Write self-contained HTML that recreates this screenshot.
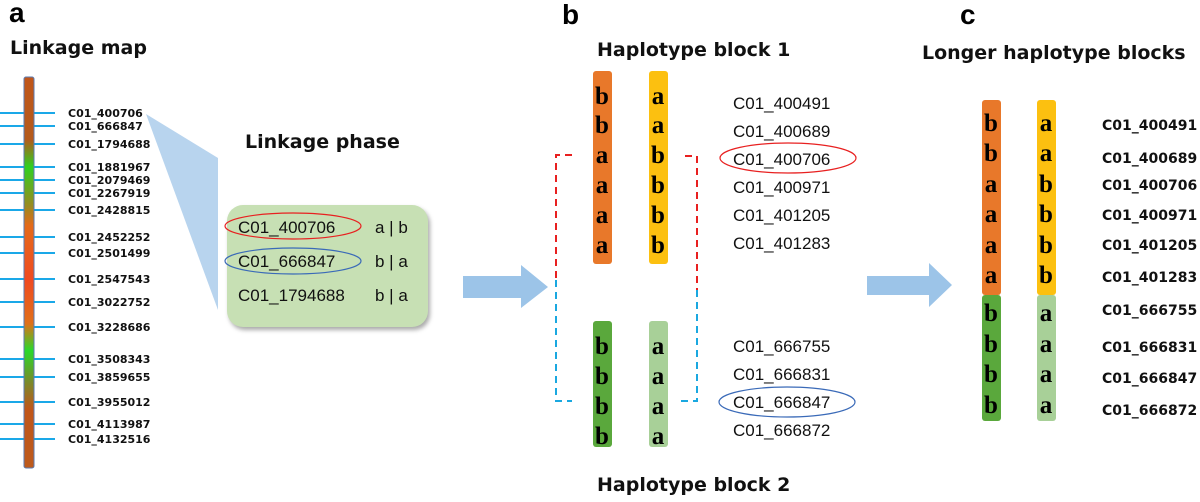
<!DOCTYPE html>
<html><head><meta charset="utf-8"><style>
body{margin:0;background:#fff;width:1200px;height:497px;overflow:hidden}
svg{font-family:"Liberation Sans",sans-serif}
.t{font-family:"DejaVu Sans",sans-serif;font-weight:bold;font-size:19px;fill:#111}
.m{font-family:"DejaVu Sans",sans-serif;font-weight:bold;font-size:11px;fill:#111}
.n{font-family:"Liberation Sans",sans-serif;font-size:17px;fill:#111}
.c{font-family:"DejaVu Sans",sans-serif;font-weight:bold;font-size:14px;fill:#111}
.L{font-family:"Liberation Serif",serif;font-weight:bold;font-size:25px;fill:#000}
</style></head><body>
<svg width="1200" height="497" xmlns="http://www.w3.org/2000/svg">
<defs>
<linearGradient id="chr" x1="0" y1="0" x2="0" y2="1">
<stop offset="0" stop-color="#c0561a"/><stop offset="0.16" stop-color="#b45a1c"/>
<stop offset="0.23" stop-color="#30d020"/><stop offset="0.33" stop-color="#9a8a20"/>
<stop offset="0.38" stop-color="#e46a1a"/><stop offset="0.52" stop-color="#f04a20"/>
<stop offset="0.63" stop-color="#e0701a"/><stop offset="0.70" stop-color="#2ad82a"/>
<stop offset="0.78" stop-color="#7a8a2a"/><stop offset="0.85" stop-color="#c0561a"/>
<stop offset="1" stop-color="#bd5a1c"/></linearGradient>
</defs>
<text x="9" y="22" style="font-family:'Liberation Sans';font-weight:bold;font-size:28px">a</text>
<text x="562" y="24" style="font-family:'Liberation Sans';font-weight:bold;font-size:28px">b</text>
<text x="960" y="24" style="font-family:'Liberation Sans';font-weight:bold;font-size:28px">c</text>
<text class="t" x="10" y="54">Linkage map</text>
<text class="t" x="245" y="148">Linkage phase</text>
<text class="t" x="597" y="56">Haplotype block 1</text>
<text class="t" x="597" y="491">Haplotype block 2</text>
<text class="t" x="922" y="59">Longer haplotype blocks</text>

<polygon points="146,114 218,158 218,310" fill="#b8d4ee"/>
<g stroke="#1aa8e8" stroke-width="2">
<line x1="0" y1="113" x2="55" y2="113"/><line x1="0" y1="126" x2="55" y2="126"/>
<line x1="0" y1="144" x2="55" y2="144"/><line x1="0" y1="167" x2="55" y2="167"/>
<line x1="0" y1="180" x2="55" y2="180"/><line x1="0" y1="193" x2="55" y2="193"/>
<line x1="0" y1="210" x2="55" y2="210"/><line x1="0" y1="237" x2="55" y2="237"/>
<line x1="0" y1="253" x2="55" y2="253"/><line x1="0" y1="279" x2="55" y2="279"/>
<line x1="0" y1="302" x2="55" y2="302"/><line x1="0" y1="327" x2="55" y2="327"/>
<line x1="0" y1="359" x2="55" y2="359"/><line x1="0" y1="377" x2="55" y2="377"/>
<line x1="0" y1="402" x2="55" y2="402"/><line x1="0" y1="424" x2="55" y2="424"/>
<line x1="0" y1="439" x2="55" y2="439"/></g>
<rect x="24" y="77" width="10" height="391" rx="2" fill="url(#chr)" stroke="#5a7ab0" stroke-width="1"/>
<g class="m">
<text x="68" y="117">C01_400706</text><text x="68" y="130">C01_666847</text>
<text x="68" y="148">C01_1794688</text><text x="68" y="171">C01_1881967</text>
<text x="68" y="184">C01_2079469</text><text x="68" y="197">C01_2267919</text>
<text x="68" y="214">C01_2428815</text><text x="68" y="241">C01_2452252</text>
<text x="68" y="257">C01_2501499</text><text x="68" y="283">C01_2547543</text>
<text x="68" y="306">C01_3022752</text><text x="68" y="331">C01_3228686</text>
<text x="68" y="363">C01_3508343</text><text x="68" y="381">C01_3859655</text>
<text x="68" y="406">C01_3955012</text><text x="68" y="428">C01_4113987</text>
<text x="68" y="443">C01_4132516</text></g>

<rect x="227" y="205" width="201" height="122" rx="16" fill="#c7e0b4" style="filter:drop-shadow(2px 3px 2px #aaa)"/>
<g class="n">
<text x="238" y="233">C01_400706</text><text x="375" y="233">a | b</text>
<text x="238" y="267">C01_666847</text><text x="375" y="267">b | a</text>
<text x="238" y="301">C01_1794688</text><text x="375" y="301">b | a</text></g>
<ellipse cx="293" cy="226" rx="68" ry="13" fill="none" stroke="#e82020" stroke-width="1.2"/>
<ellipse cx="293" cy="261" rx="68" ry="13" fill="none" stroke="#3a6ab8" stroke-width="1.2"/>

<polygon points="463,276 521,276 521,265 548,287 521,308 521,298 463,298" fill="#9cc4e8"/>
<polygon points="867,276 929,276 929,263 952,285 929,307 929,295 867,295" fill="#9cc4e8"/>

<g fill="none" stroke-width="2" stroke-dasharray="7,5">
<path d="M572,155 H556 V280" stroke="#e82020"/>
<path d="M556,280 V401 H572" stroke="#1aa8e0"/>
<path d="M685,156 H697 V290" stroke="#e82020"/>
<path d="M697,290 V401 H681" stroke="#1aa8e0"/></g>

<rect x="593" y="71" width="19" height="193" rx="3" fill="#e8782a"/>
<rect x="649" y="71" width="19" height="193" rx="3" fill="#fcc010"/>
<rect x="593" y="321" width="19" height="126" rx="3" fill="#5aa83c"/>
<rect x="649" y="321" width="19" height="126" rx="3" fill="#a8d098"/>
<g class="L" text-anchor="middle">
<text x="602" y="104">b</text><text x="602" y="133">b</text><text x="602" y="163">a</text><text x="602" y="193">a</text><text x="602" y="223">a</text><text x="602" y="253">a</text>
<text x="658" y="104">a</text><text x="658" y="133">a</text><text x="658" y="163">b</text><text x="658" y="193">b</text><text x="658" y="223">b</text><text x="658" y="253">b</text>
<text x="602" y="354">b</text><text x="602" y="384">b</text><text x="602" y="414">b</text><text x="602" y="444">b</text>
<text x="658" y="354">a</text><text x="658" y="384">a</text><text x="658" y="414">a</text><text x="658" y="444">a</text></g>
<g class="n">
<text x="733" y="109">C01_400491</text><text x="733" y="137">C01_400689</text>
<text x="733" y="165">C01_400706</text><text x="733" y="193">C01_400971</text>
<text x="733" y="221">C01_401205</text><text x="733" y="249">C01_401283</text>
<text x="733" y="352">C01_666755</text><text x="733" y="380">C01_666831</text>
<text x="733" y="408">C01_666847</text><text x="733" y="436">C01_666872</text></g>
<ellipse cx="788" cy="158" rx="68" ry="15" fill="none" stroke="#e82020" stroke-width="1.2"/>
<ellipse cx="787" cy="402" rx="68" ry="15" fill="none" stroke="#3a6ab8" stroke-width="1.2"/>

<rect x="982" y="100" width="19" height="195" rx="3" fill="#e8782a"/>
<rect x="1037" y="100" width="19" height="195" rx="3" fill="#fcc010"/>
<rect x="982" y="295" width="19" height="126" rx="3" fill="#5aa83c"/>
<rect x="1037" y="295" width="19" height="126" rx="3" fill="#a8d098"/>
<g class="L" text-anchor="middle">
<text x="991" y="131">b</text><text x="991" y="161">b</text><text x="991" y="192">a</text><text x="991" y="222">a</text><text x="991" y="253">a</text><text x="991" y="283">a</text>
<text x="1046" y="131">a</text><text x="1046" y="161">a</text><text x="1046" y="192">b</text><text x="1046" y="222">b</text><text x="1046" y="253">b</text><text x="1046" y="283">b</text>
<text x="991" y="321">b</text><text x="991" y="352">b</text><text x="991" y="382">b</text><text x="991" y="413">b</text>
<text x="1046" y="321">a</text><text x="1046" y="352">a</text><text x="1046" y="382">a</text><text x="1046" y="413">a</text></g>
<g class="c">
<text x="1102" y="130">C01_400491</text><text x="1102" y="163">C01_400689</text>
<text x="1102" y="190">C01_400706</text><text x="1102" y="220">C01_400971</text>
<text x="1102" y="250">C01_401205</text><text x="1102" y="282">C01_401283</text>
<text x="1102" y="315">C01_666755</text><text x="1102" y="352">C01_666831</text>
<text x="1102" y="383">C01_666847</text><text x="1102" y="415">C01_666872</text></g>
</svg>
</body></html>
